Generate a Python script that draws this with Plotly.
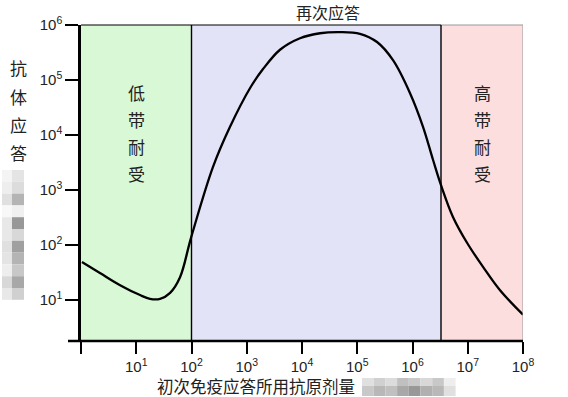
import math
import plotly.graph_objects as go

# ---- data ----
dose = [1.04, 2.2, 5.1, 11.7, 17.7, 27, 41, 62, 98, 245, 498, 1150, 1970, 4000,
        9200, 21200, 48700, 112000, 228000, 444000, 902000, 1.55e6, 2.35e6,
        3.28e6, 5.4e6, 9.7e6, 1.89e7, 3.84e7, 1e8]
response = [49, 31, 18.6, 12.3, 10.5, 10.5, 13.5, 26, 135, 2630, 14100, 71600,
            158000, 355000, 575000, 708000, 741000, 692000, 490000, 229000,
            57500, 14100, 3550, 1230, 324, 110, 40, 15, 5.4]

zone_edges = [1, 100, 3.28e6, 1e8]
zone_colors = ["#d9f8d6", "#e3e3f8", "#fddede"]
zone_labels = ["低带耐受", None, "高带耐受"]

x_tickvals = [1, 10, 100, 1e3, 1e4, 1e5, 1e6, 1e7, 1e8]
x_ticktext = [""] + ["10<sup>%d</sup>" % i for i in range(1, 9)]
y_tickvals = [10, 100, 1e3, 1e4, 1e5, 1e6]
y_ticktext = ["10<sup>%d</sup>" % i for i in range(1, 7)]

title_text = "再次应答"
x_title = "初次免疫应答所用抗原剂量"
y_title = "抗体应答"

# pixelated (blurred) blocks in the source image
yblur_left = ["#f4f4f4", "#eeeeee", "#e0e0e0", "#f8f8f8", "#e8e8e8", "#e8e8e8",
              "#e0e0e0", "#e4e4e4", "#eeeeee", "#d8d8d8", "#e8e8e8"]
yblur_right = ["#e4e4e4", "#dcdcdc", "#b4b4b4", "#f0f0f0", "#989898", "#d8d8d8",
               "#a0a0a0", "#b4b4b4", "#c8c8c8", "#a8a8a8", "#d0d0d0"]
xblur_top = ["#e0e0e0", "#d0d0d0", "#dcdcdc", "#c0c0c0", "#c8c8c8", "#d8d8d8",
             "#c8c8c8", "#eeeeee"]
xblur_bottom = ["#c8c8c8", "#b8b8b8", "#c0c0c0", "#a8a8a8", "#989898", "#b0b0b0",
                "#b8b8b8", "#e0e0e0"]

W, H = 568, 397
L, R, T, B = 81, 45, 25, 56
PW, PH = W - L - R, H - T - B


def px(xp):
    return (xp - L) / PW


def py(yp):
    return (H - B - yp) / PH


fig = go.Figure()
fig.add_trace(go.Scatter(x=dose, y=response, mode="lines", line_shape="spline",
                         line=dict(color="black", width=2.3), hoverinfo="skip",
                         showlegend=False))

shapes = []
for i, col in enumerate(zone_colors):
    shapes.append(dict(type="rect", xref="x", yref="paper", x0=zone_edges[i],
                       x1=zone_edges[i + 1], y0=0, y1=1, fillcolor=col,
                       line_width=0, layer="below"))
# top border, dividers, right edge
shapes.append(dict(type="line", xref="x", yref="paper", x0=zone_edges[0],
                   x1=zone_edges[2], y0=1, y1=1, line=dict(color="black", width=1.2)))
shapes.append(dict(type="line", xref="x", yref="paper", x0=zone_edges[2],
                   x1=zone_edges[3], y0=1, y1=1, line=dict(color="#999999", width=1)))
shapes.append(dict(type="line", xref="x", yref="paper", x0=zone_edges[3],
                   x1=zone_edges[3], y0=0, y1=1, line=dict(color="#999999", width=1)))
for e in zone_edges[1:3]:
    shapes.append(dict(type="line", xref="x", yref="paper", x0=e, x1=e, y0=0, y1=1,
                       line=dict(color="black", width=1.4)))
# x-axis line extension to the left
shapes.append(dict(type="line", xref="paper", yref="paper", x0=px(68), x1=1,
                   y0=0, y1=0, line=dict(color="black", width=2.5)))

# blurred blocks
for i, (a, b) in enumerate(zip(yblur_left, yblur_right)):
    y0 = 170 + i * 11.8
    shapes.append(dict(type="rect", xref="paper", yref="paper", x0=px(2), x1=px(12),
                       y0=py(y0 + 11.8), y1=py(y0), fillcolor=a, line_width=0))
    shapes.append(dict(type="rect", xref="paper", yref="paper", x0=px(12), x1=px(24),
                       y0=py(y0 + 11.8), y1=py(y0), fillcolor=b, line_width=0))
for i, (a, b) in enumerate(zip(xblur_top, xblur_bottom)):
    x0 = 362 + i * 11.7
    shapes.append(dict(type="rect", xref="paper", yref="paper", x0=px(x0), x1=px(x0 + 11.7),
                       y0=py(386), y1=py(378), fillcolor=a, line_width=0))
    shapes.append(dict(type="rect", xref="paper", yref="paper", x0=px(x0), x1=px(x0 + 11.7),
                       y0=py(396), y1=py(386), fillcolor=b, line_width=0))

cjk = "Noto Sans CJK SC"


def label(text, x, y, xref="paper", size=17):
    return dict(text=text, xref=xref, yref="paper", x=x, y=y, xanchor="center",
                yanchor="middle", showarrow=False,
                font=dict(family=cjk, size=size, color="#222"))


ann = [label(title_text, px(328), py(12), size=16),
       label(x_title, px(256), py(385.5), size=16.5)]
for k, ch in enumerate(y_title):
    ann.append(label(ch, px(18), py(68 + k * 28.3)))
for i, lab in enumerate(zone_labels):
    if not lab:
        continue
    cx = (math.log10(zone_edges[i]) + math.log10(zone_edges[i + 1])) / 2
    for k, ch in enumerate(lab):
        ann.append(label(ch, cx, py(92 + k * 27), xref="x"))

fig.update_layout(
    width=W, height=H, margin=dict(l=L, r=R, t=T, b=B),
    paper_bgcolor="white", plot_bgcolor="white",
    shapes=shapes, annotations=ann, showlegend=False,
    xaxis=dict(type="log", range=[0, 8], showgrid=False, zeroline=False,
               tickvals=x_tickvals, ticktext=x_ticktext, ticks="outside",
               ticklen=12, tickwidth=2, tickcolor="black", showline=False,
               tickfont=dict(family="Liberation Sans, Arial", size=15, color="#222")),
    yaxis=dict(type="log", range=[1 - 41 / 55, 6], showgrid=False, zeroline=False,
               tickvals=y_tickvals, ticktext=y_ticktext, ticks="outside",
               ticklen=13, tickwidth=2, tickcolor="black", showline=True,
               linecolor="black", linewidth=2.5,
               tickfont=dict(family="Liberation Sans, Arial", size=15, color="#222")),
)

fig.write_html("out.html", config={"displayModeBar": False},
               post_script="document.body.style.margin='0';")
